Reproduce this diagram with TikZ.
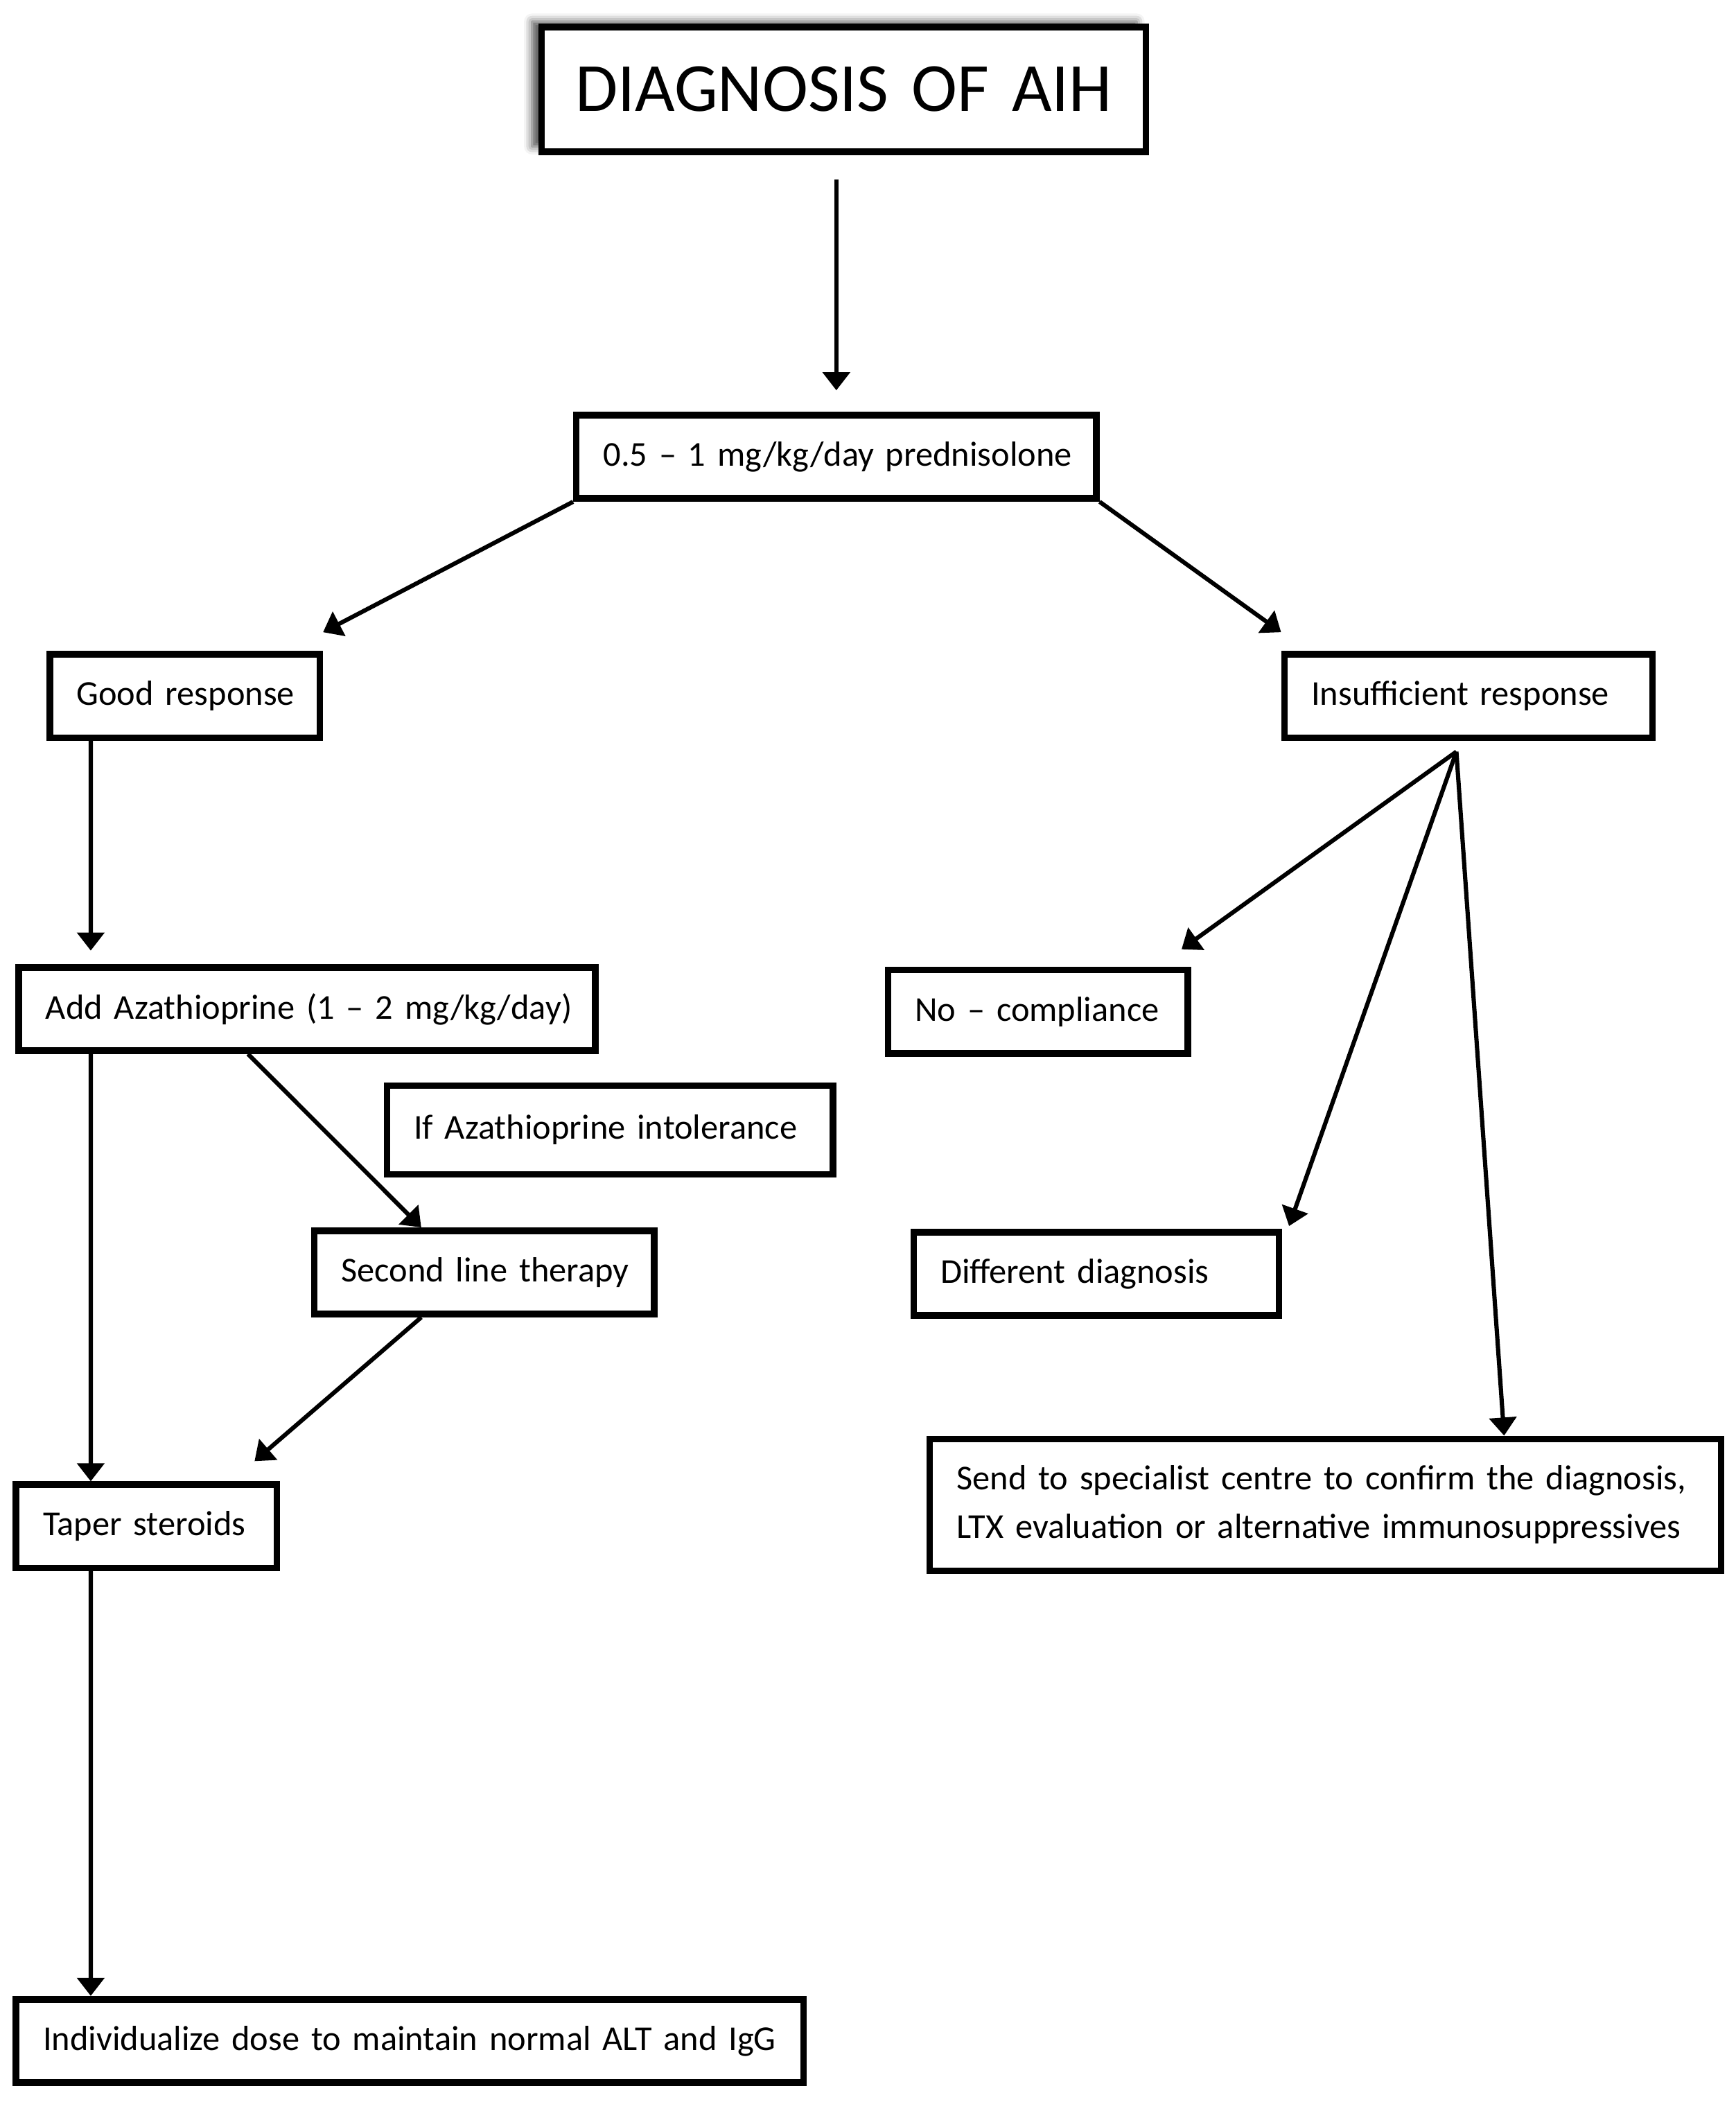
\documentclass[tikz,border=0pt]{standalone}
\usepackage{fontspec}
\setmainfont[WordSpace=0.8]{Carlito}
\usetikzlibrary{arrows.meta,shadows.blur}

\begin{document}
\begin{tikzpicture}[
    box/.style={draw,line width=2.8pt,inner xsep=0.4cm,inner ysep=0pt,minimum height=1.24cm,align=left,font=\fontsize{14.8}{20.5}\selectfont},
    arr/.style={line width=1.8pt,-{Triangle[width=0.4cm,length=0.27cm]}}]
  \useasboundingbox (0,0) rectangle (25.84,-31.29);
      \node[box,fill=white,text width=8.2cm,minimum height=1.86cm,align=center,font=\fontsize{29.2}{34}\selectfont,
            blur shadow={shadow xshift=-0.14cm,shadow yshift=0.08cm,shadow blur radius=0.12cm,shadow opacity=70}] (title) at (12.56,-1.33) {\mbox{DIAGNOSIS OF AIH}};
      \node[box,text width=6.94cm] (pred) at (12.45,-6.80) {\mbox{0.5 -- 1 mg/kg/day prednisolone}};
      \node[box,text width=3.22cm] (good) at (2.75,-10.36) {\mbox{Good response}};
      \node[box,text width=4.68cm] (insuff) at (21.86,-10.36) {\mbox{Insufficient response}};
      \node[box,text width=7.78cm] (aza) at (4.57,-15.02) {\mbox{Add Azathioprine (1 -- 2 mg/kg/day)}};
      \node[box,text width=3.66cm] (nocomp) at (15.45,-15.06) {\mbox{No -- compliance}};
      \node[box,text width=5.84cm,minimum height=1.32cm] (intol) at (9.08,-16.82) {\mbox{If Azathioprine intolerance}};
      \node[box,text width=4.26cm] (second) at (7.21,-18.94) {\mbox{Second line therapy}};
      \node[box,text width=4.64cm] (diff) at (16.32,-18.96) {\mbox{Different diagnosis}};
      \node[box,text width=3.08cm] (taper) at (2.18,-22.72) {\mbox{Taper steroids}};
      \node[box,text width=10.98cm,minimum height=1.96cm] (send) at (19.73,-22.40) {\mbox{Send to specialist centre to confirm the diagnosis,}\\\mbox{LTX evaluation or alternative immunosuppressives}};
      \node[box,text width=10.92cm] (indiv) at (6.10,-30.38) {\mbox{Individualize dose to maintain normal ALT and IgG}};
    \draw[arr,shorten <=0.36cm,shorten >=0.32cm] (title.south -| pred.north) -- (pred.north);
    \draw[arr] (pred.south west) -- ([yshift=0.28cm]good.north east);
    \draw[arr] (pred.south east) -- ([yshift=0.28cm]insuff.north west);
    \draw[arr,shorten >=0.2cm] ([xshift=0.66cm]good.south west) -- ([xshift=1.12cm]aza.north west);
    \draw[arr] ([xshift=1.12cm]aza.south west) -- ([xshift=1.16cm]taper.north west);
    \draw[arr] ([xshift=3.46cm]aza.south west) -- ([xshift=1.64cm]second.north west);
    \draw[arr] ([xshift=1.64cm]second.south west) -- ([xshift=-0.38cm,yshift=0.3cm]taper.north east);
    \draw[arr] ([xshift=1.16cm]taper.south west) -- ([xshift=1.16cm]indiv.north west);
    \coordinate (fan) at ([xshift=-0.18cm,yshift=-0.16cm]insuff.south);
    \draw[arr] (fan) -- ([xshift=-0.14cm,yshift=0.26cm]nocomp.north east);
    \draw[arr] (fan) -- ([xshift=0.1cm,yshift=0.04cm]diff.north east);
    \draw[arr] (fan) -- ([xshift=8.6cm]send.north west);
    \end{tikzpicture}
\end{document}
